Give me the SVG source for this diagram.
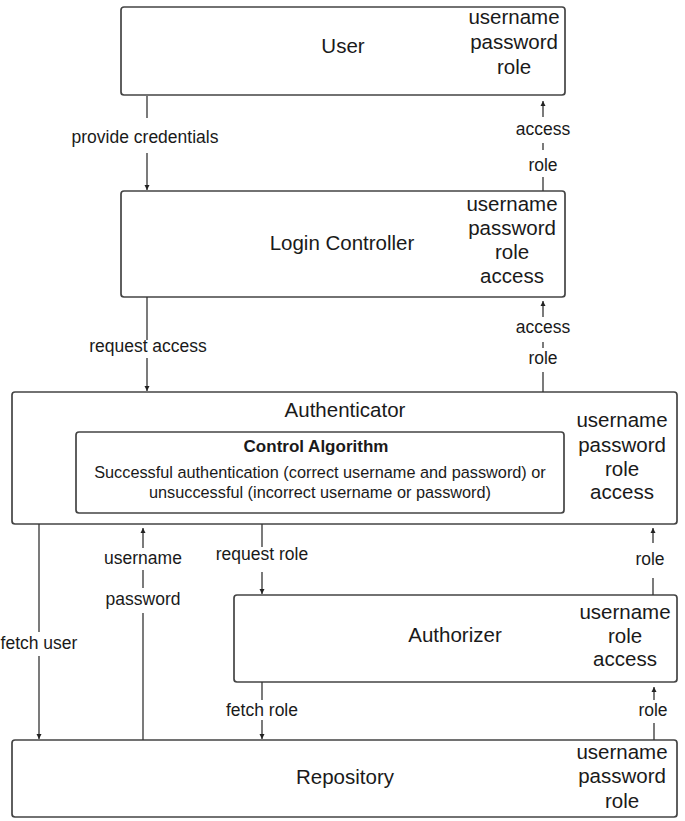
<svg xmlns="http://www.w3.org/2000/svg" width="685" height="821" viewBox="0 0 685 821">
<defs>
<style>
.box{fill:#fff;stroke:#444;stroke-width:1.7}
.t{font-family:"Liberation Sans",Arial,sans-serif;fill:#1a1a1a;text-anchor:middle}
.title{font-size:20.5px}
.attr{font-size:20.5px}
.lbl{font-size:17.5px}
.ct{font-size:17px;font-weight:bold}
.cb{font-size:16.3px}
.ln{stroke:#333;stroke-width:1.3;fill:none}
</style>
<marker id="ah" viewBox="0 0 10 10" refX="10" refY="5" markerWidth="5" markerHeight="7" markerUnits="userSpaceOnUse" orient="auto">
<path d="M0,0 L10,5 L0,10 z" fill="#222"/>
</marker>
</defs>
<rect width="685" height="821" fill="#fff"/>

<g id="user">
<rect class="box" x="121" y="7" width="444" height="88" rx="3"/>
<text class="t title" x="343" y="53">User</text>
<text class="t attr" x="514" y="24">username</text>
<text class="t attr" x="514" y="49">password</text>
<text class="t attr" x="514" y="74">role</text>
</g>

<g id="login-controller">
<rect class="box" x="121" y="191" width="444" height="106" rx="3"/>
<text class="t title" x="342" y="250">Login Controller</text>
<text class="t attr" x="512" y="211">username</text>
<text class="t attr" x="512" y="235">password</text>
<text class="t attr" x="512" y="259">role</text>
<text class="t attr" x="512" y="283">access</text>
</g>

<g id="authenticator">
<rect class="box" x="12" y="392" width="665" height="132" rx="3"/>
<text class="t title" x="345" y="417">Authenticator</text>
<text class="t attr" x="622" y="427">username</text>
<text class="t attr" x="622" y="452">password</text>
<text class="t attr" x="622" y="476">role</text>
<text class="t attr" x="622" y="499">access</text>
</g>

<g id="control-algorithm">
<rect class="box" x="76" y="432" width="488" height="81" rx="3"/>
<text class="t ct" x="316" y="452">Control Algorithm</text>
<text class="t cb" x="320" y="478">Successful authentication (correct username and password) or</text>
<text class="t cb" x="320" y="498">unsuccessful (incorrect username or password)</text>
</g>

<g id="authorizer">
<rect class="box" x="234" y="595" width="443" height="87" rx="3"/>
<text class="t title" x="455" y="642">Authorizer</text>
<text class="t attr" x="625" y="619">username</text>
<text class="t attr" x="625" y="643">role</text>
<text class="t attr" x="625" y="666">access</text>
</g>

<g id="repository">
<rect class="box" x="12" y="740" width="665" height="77" rx="3"/>
<text class="t title" x="345" y="784">Repository</text>
<text class="t attr" x="622" y="759">username</text>
<text class="t attr" x="622" y="783">password</text>
<text class="t attr" x="622" y="808">role</text>
</g>

<g id="connectors">
<!-- provide credentials -->
<line class="ln" x1="147" y1="96" x2="147" y2="118"/>
<line class="ln" x1="147" y1="153" x2="147" y2="190" marker-end="url(#ah)"/>
<text class="t lbl" x="145" y="143">provide credentials</text>
<!-- access/role to User -->
<line class="ln" x1="543" y1="191" x2="543" y2="177"/>
<line class="ln" x1="543" y1="150" x2="543" y2="143"/>
<line class="ln" x1="543" y1="117" x2="543" y2="101" marker-end="url(#ah)"/>
<text class="t lbl" x="543" y="135">access</text>
<text class="t lbl" x="543" y="171">role</text>
<!-- request access -->
<line class="ln" x1="147" y1="297" x2="147" y2="340"/>
<line class="ln" x1="147" y1="358" x2="147" y2="391" marker-end="url(#ah)"/>
<text class="t lbl" x="148" y="352">request access</text>
<!-- access/role to Login Controller -->
<line class="ln" x1="543" y1="392" x2="543" y2="372"/>
<line class="ln" x1="543" y1="348" x2="543" y2="342"/>
<line class="ln" x1="543" y1="317" x2="543" y2="301" marker-end="url(#ah)"/>
<text class="t lbl" x="543" y="333">access</text>
<text class="t lbl" x="543" y="364">role</text>
<!-- fetch user -->
<line class="ln" x1="39" y1="524" x2="39" y2="632"/>
<line class="ln" x1="39" y1="656" x2="39" y2="739" marker-end="url(#ah)"/>
<text class="t lbl" x="39" y="649">fetch user</text>
<!-- username/password to Authenticator -->
<line class="ln" x1="143" y1="740" x2="143" y2="613"/>
<line class="ln" x1="143" y1="588" x2="143" y2="570"/>
<line class="ln" x1="143" y1="548" x2="143" y2="528" marker-end="url(#ah)"/>
<text class="t lbl" x="143" y="564">username</text>
<text class="t lbl" x="143" y="605">password</text>
<!-- request role -->
<line class="ln" x1="262" y1="524" x2="262" y2="547"/>
<line class="ln" x1="262" y1="572" x2="262" y2="594" marker-end="url(#ah)"/>
<text class="t lbl" x="262" y="560">request role</text>
<!-- role to Authenticator -->
<line class="ln" x1="653" y1="595" x2="653" y2="578"/>
<line class="ln" x1="653" y1="543" x2="653" y2="528" marker-end="url(#ah)"/>
<text class="t lbl" x="650" y="565">role</text>
<!-- fetch role -->
<line class="ln" x1="262" y1="682" x2="262" y2="700"/>
<line class="ln" x1="262" y1="720" x2="262" y2="739" marker-end="url(#ah)"/>
<text class="t lbl" x="262" y="716">fetch role</text>
<!-- role to Authorizer -->
<line class="ln" x1="654" y1="740" x2="654" y2="723"/>
<line class="ln" x1="654" y1="700" x2="654" y2="687" marker-end="url(#ah)"/>
<text class="t lbl" x="653" y="716">role</text>
</g>
</svg>
